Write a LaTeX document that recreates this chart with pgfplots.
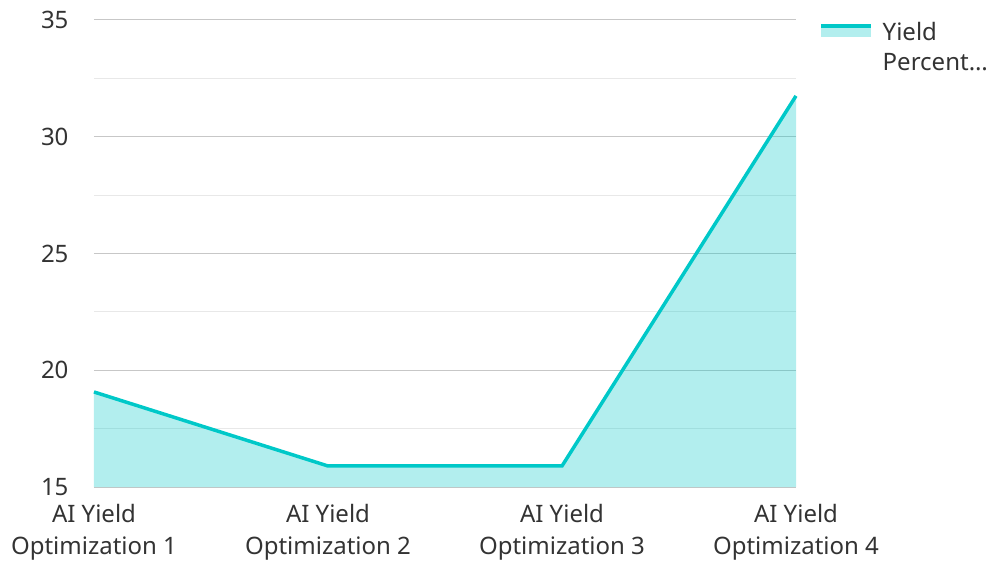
\documentclass[border=0pt]{standalone}
\usepackage{pgfplots}
\pgfplotsset{compat=1.18}
\usepackage{fontspec}
\setmainfont{Noto Sans}

\definecolor{linecol}{HTML}{00C8C8}
\definecolor{labcol}{HTML}{333333}

\begin{document}
\begin{tikzpicture}
  \begin{axis}[
    scale only axis,
    width=702pt, height=467pt,
    xmin=0, xmax=3, ymin=15, ymax=35,
    clip=false,
    axis line style={draw=none},
    major tick length=0pt, minor tick length=0pt,
    xtick={0,1,2,3},
    xticklabels={{AI Yield\\Optimization 1},{AI Yield\\Optimization 2},
                 {AI Yield\\Optimization 3},{AI Yield\\Optimization 4}},
    x tick label style={align=center, font=\fontsize{24}{32}\selectfont, text=labcol, yshift=-14pt},
    ytick={15,20,25,30,35},
    minor ytick={17.5,22.5,27.5,32.5},
    y tick label style={font=\fontsize{24}{28}\selectfont, text=labcol, xshift=-22pt},
    /pgf/number format/assume math mode=true,
    ymajorgrids, yminorgrids,
    major grid style={draw=black!22, line width=1pt},
    minor grid style={draw=black!9, line width=1pt},
    legend style={at={(1,1)}, anchor=north west, xshift=20pt, yshift=6pt,
                  draw=none, font=\fontsize{24}{32}\selectfont, text=labcol,
                  /tikz/every odd column/.style={}},
    legend cell align=left,
  ]
    \addplot[draw=none, fill=linecol, fill opacity=0.3, forget plot]
      coordinates {(0,19.07) (1,15.9) (2,15.9) (3,31.75)} \closedcycle;
    \addplot[draw=linecol, line width=3.5pt,
      legend image code/.code={
        \path[draw=none, fill=linecol, fill opacity=0.3] (0pt,-7pt) rectangle (50pt,5pt);
        \draw[linecol, line width=3.5pt] (0pt,4pt) -- (50pt,4pt);
        \path (58pt,0pt);
      }]
      coordinates {(0,19.07) (1,15.9) (2,15.9) (3,31.75)};
    \addlegendentry{\begin{tabular}[t]{@{}l@{}}Yield\\[-2pt]Percent…\end{tabular}}
  \end{axis}
  \pgfresetboundingbox
  \path (current axis.south west) ++(-94pt,-75pt) rectangle ++(991pt,562pt);
\end{tikzpicture}
\end{document}
